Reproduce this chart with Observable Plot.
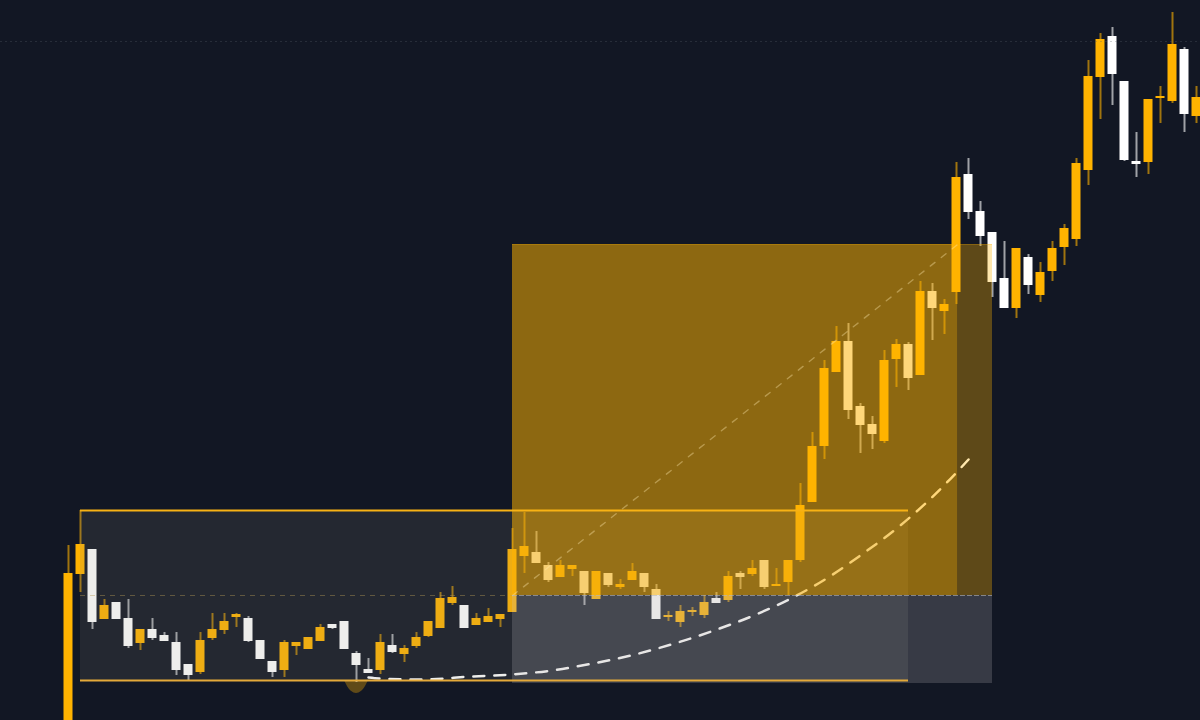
<!DOCTYPE html>
<html>
<head>
<meta charset="utf-8">
<script src="https://cdn.jsdelivr.net/npm/d3@7"></script>
<script src="https://cdn.jsdelivr.net/npm/@observablehq/plot@0.6"></script>
<style>
html,body{margin:0;padding:0;background:#121724;overflow:hidden}
svg{display:block}
</style>
</head>
<body>
<div id="chart"></div>
<script>
const open = [-20,146,171,101,118,102,77,91,85,78,56,48,82,90,103,102,80,59,50,74,71,79,96,99,67,51,50,75,66,74,84,92,117,115,95,98,101,108,164,168,155,143,151,149,121,147,133,140,147,131,103,98,108,105,122,120,147,146,160,134,138,160,218,274,348,379,314,296,279,361,376,345,429,409,428,546,509,488,442,412,463,425,449,473,481,550,643,684,639,559,558,622,619,671,604];
const close = [147,176,98,115,101,74,91,82,79,50,45,80,91,99,106,79,61,48,78,78,83,93,92,71,55,47,78,68,72,83,99,122,123,92,102,104,106,171,174,157,140,155,155,127,149,135,136,149,133,101,105,109,110,118,117,144,143,152,133,136,160,215,274,352,379,310,295,286,360,376,342,429,412,416,543,508,484,438,412,472,435,448,472,492,557,644,681,646,560,556,621,624,676,606,623];
const high = [175,210,171,121,118,121,91,102,88,88,56,88,107,107,107,104,80,59,80,78,83,96,96,99,69,62,86,86,75,88,99,128,134,115,107,112,106,192,208,189,158,160,155,149,149,147,141,157,147,136,109,115,113,125,128,149,149,160,160,152,160,237,288,360,394,397,317,304,370,381,378,439,437,421,558,562,519,488,479,472,466,458,479,496,562,660,687,693,639,588,621,634,708,673,634];
const low = [-20,128,91,101,101,72,70,80,79,45,40,46,80,86,93,78,61,43,43,65,71,79,91,71,38,47,46,67,58,72,83,92,115,92,95,98,93,108,147,157,138,143,144,115,121,133,131,140,128,101,99,93,104,102,117,118,131,144,131,134,125,158,218,261,348,301,267,271,277,333,330,345,380,386,416,501,474,423,412,402,426,418,439,455,474,535,601,615,559,543,546,597,617,588,597];

const curveIndex = [25.0,25.9,29.4,33.6,36.9,40.3,43.7,47.2,50.5,53.8,57.1,60.2,63.3,66.1,68.9,71.5,74.0,75.0];
const curvePrice = [43,42,41,44,46,50,57,66,77,90,105,122,143,166,191,218,248,261];

const diagIndex = [37.0,74.1];
const diagPrice = [125,476];

const blobIndex = [23.0,23.3,23.6,24,24.4,24.7,25.0];
const blobDepth = [40,33,29,27,29,33,40];

const rangeTop = 210, rangeBottom = 40, midLevel = 125, targetTop = 476, zoneBottom = 37, farLevel = 679;
const rangeStart = 1.0, rangeEnd = 70.0, zoneStart = 37.0, zoneSplit = 74.1, zoneEnd = 77.0;

const orange = "#ffb300", white = "#ffffff";
const candles = open.map((o, i) => ({i, o, c: close[i], h: high[i], l: low[i], up: close[i] >= o}));
const curve = curveIndex.map((x, k) => ({x, y: curvePrice[k]}));
const diag = diagIndex.map((x, k) => ({x, y: diagPrice[k]}));
const blob = blobIndex.map((x, k) => ({x, y: blobDepth[k]}));
const one = [{}];

const chart = Plot.plot({
  width: 1200, height: 720,
  marginTop: 0, marginBottom: 0, marginLeft: 0, marginRight: 0,
  style: {background: "#121724"},
  x: {type: "linear", domain: [-68 / 12, (1200 - 68) / 12], axis: null},
  y: {type: "linear", domain: [0, 720], range: [720, 0], axis: null},
  marks: [
    Plot.areaY(blob, {x: "x", y1: rangeBottom, y2: "y", curve: "natural", fill: orange, fillOpacity: 0.33}),
    Plot.ruleX(candles, {x: "i", y1: "l", y2: "h", stroke: d => d.up ? orange : white, strokeWidth: 2, strokeOpacity: 0.6}),
    Plot.rect(candles, {
      x1: d => d.i - 0.375, x2: d => d.i + 0.375,
      y1: "o", y2: "c",
      fill: d => d.up ? orange : white
    }),
    Plot.ruleY([farLevel], {stroke: "#5a5f6a", strokeOpacity: 0.3, strokeDasharray: "2 3"}),
    Plot.line(curve, {x: "x", y: "y", curve: "monotone-x", stroke: white, strokeWidth: 2.5, strokeDasharray: "11 10"}),
    Plot.rect(one, {x1: rangeStart, x2: rangeEnd, y1: rangeBottom, y2: rangeTop, fill: "#8a8a80", fillOpacity: 0.15}),
    Plot.rect(one, {x1: zoneStart, x2: zoneEnd, y1: zoneBottom, y2: midLevel, fill: "#cfcacd", fillOpacity: 0.2}),
    Plot.rect(one, {x1: zoneStart, x2: zoneSplit, y1: midLevel, y2: targetTop, fill: orange, fillOpacity: 0.52}),
    Plot.rect(one, {x1: zoneSplit, x2: zoneEnd, y1: midLevel, y2: targetTop, fill: orange, fillOpacity: 0.32}),
    Plot.ruleY([targetTop], {x1: zoneStart, x2: zoneEnd, stroke: orange, strokeOpacity: 0.25, strokeWidth: 1}),
    Plot.line(diag, {x: "x", y: "y", stroke: "#ffe9b0", strokeOpacity: 0.38, strokeWidth: 1.4, strokeDasharray: "6 8"}),
    Plot.ruleY([midLevel], {x1: rangeStart, x2: zoneStart, stroke: "#b89a55", strokeOpacity: 0.42, strokeWidth: 1, strokeDasharray: "5 5"}),
    Plot.ruleY([midLevel], {x1: zoneStart, x2: zoneEnd, stroke: "#b8b8b8", strokeOpacity: 0.6, strokeWidth: 1, strokeDasharray: "5 2"}),
    Plot.ruleY([rangeTop], {x1: rangeStart, x2: rangeEnd, stroke: "#f7b215", strokeWidth: 2}),
    Plot.ruleY([rangeBottom], {x1: rangeStart, x2: rangeEnd, stroke: "#e3a93a", strokeWidth: 2})
  ]
});
document.getElementById("chart").append(chart);
</script>
</body>
</html>
